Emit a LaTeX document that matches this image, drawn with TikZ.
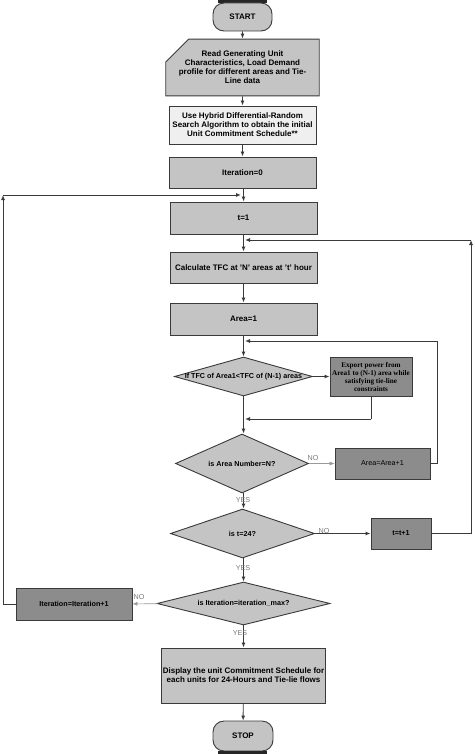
\documentclass[tikz,border=0pt]{standalone}
\usepackage{fontspec}
\setmainfont{Liberation Sans}
\newfontfamily\timesfont{Liberation Serif}
\usepackage{tikz}
\usetikzlibrary{shapes.geometric,shapes.misc,arrows.meta}
\definecolor{boxgray}{HTML}{C4C4C4}
\definecolor{darkbox}{HTML}{8C8C8C}
\definecolor{lightbox}{HTML}{EFEFEF}
\definecolor{linegray}{HTML}{3A3A3A}
\definecolor{labelgray}{HTML}{7A7A7A}

\begin{document}
\begin{tikzpicture}[x=1pt,y=-1pt,
    line width=0.9pt,
    proc/.style={rectangle,draw=linegray,fill=boxgray,inner sep=1pt,align=center,
        font=\bfseries\fontsize{8}{9}\selectfont},
    darkproc/.style={proc,fill=darkbox,font=\bfseries\fontsize{7.2}{8.5}\selectfont},
    term/.style={proc,rounded corners=11pt},
    dec/.style={diamond,draw=linegray,fill=boxgray,inner sep=0pt},
    dtext/.style={font=\bfseries\fontsize{7.2}{8.5}\selectfont},
    yn/.style={font=\fontsize{7.2}{8}\selectfont,text=labelgray,inner sep=0pt},
    flow/.style={draw=linegray,-{Latex[length=5pt,width=4pt]}},
    noflow/.style={flow,draw=gray!80,line width=0.6pt}]
    \useasboundingbox (0,0) rectangle (474,754);

    % main column
    \fill[black!85] (218,0) rectangle (267,3);
    \node[term,minimum width=59pt,minimum height=28pt] (start) at (242.5,17) {START};
    \node[proc,chamfered rectangle,chamfered rectangle corners=north west,
        chamfered rectangle xsep=12pt,chamfered rectangle ysep=11pt,
        minimum width=147pt,minimum height=49pt] (read) at (242.5,67.5)
        {Read Generating Unit\\Characteristics, Load Demand\\profile for different areas and Tie-\\Line data};
    \node[proc,fill=lightbox,minimum width=147pt,minimum height=38pt] (hybrid) at (242.5,125)
        {Use Hybrid Differential-Random\\Search Algorithm to obtain the initial\\Unit Commitment Schedule**};
    \node[proc,minimum width=147pt,minimum height=31pt] (iter0) at (242.5,172.5) {Iteration=0};
    \node[proc,minimum width=147pt,minimum height=32pt] (t1) at (243.5,218) {t=1};
    \node[proc,minimum width=147pt,minimum height=31pt] (calc) at (243.5,267.5) {Calculate TFC at 'N' areas at 't' hour};
    \node[proc,minimum width=147pt,minimum height=32pt] (area1) at (243.5,319) {Area=1};
    \node[dec,minimum width=138pt,minimum height=39pt,
        label={[dtext]center:If TFC of Area1<TFC of (N-1) areas}] (d1) at (243.5,376.5) {};
    \node[darkproc,font=\timesfont\bfseries\fontsize{7.2}{8}\selectfont,
        minimum width=82pt,minimum height=39pt] (export) at (371,376.5)
        {Export power from\\Area1 to (N-1) area while\\satisfying tie-line\\constraints};
    \node[dec,minimum width=133pt,minimum height=59pt,
        label={[dtext]center:is Area Number=N?}] (d2) at (242,463.5) {};
    \node[darkproc,font=\fontsize{7.2}{8.5}\selectfont,minimum width=95pt,minimum height=31pt] (areainc) at (382.5,463.5) {Area=Area+1};
    \node[dec,minimum width=144pt,minimum height=49pt,
        label={[dtext]center:is t=24?}] (d3) at (242.5,533.5) {};
    \node[darkproc,minimum width=60pt,minimum height=31pt] (tinc) at (401,533.5) {t=t+1};
    \node[dec,minimum width=173pt,minimum height=43pt,
        label={[dtext]center:is Iteration=iteration\_max?}] (d4) at (243.5,603.5) {};
    \node[darkproc,minimum width=116pt,minimum height=32pt] (iterinc) at (74,604) {Iteration=Iteration+1};
    \node[proc,minimum width=159pt,minimum height=55pt] (display) at (243.5,675.5)
        {Display the unit Commitment Schedule for\\each units for 24-Hours and Tie-lie flows};
    \node[term,minimum width=60pt,minimum height=30pt] (stop) at (243,736) {STOP};
    \fill[black!85] (218,751) rectangle (267,754);

    % loop corners
    \coordinate (oa) at (3,604);
    \coordinate (ob) at (3,195);
    \coordinate (oc) at (241,195);
    \coordinate (ta) at (471,533.5);
    \coordinate (tb) at (471,240);
    \coordinate (tc) at (245,240);
    \coordinate (aa) at (437,463.5);
    \coordinate (ab) at (437,341);
    \coordinate (ac) at (245,341);
    \coordinate (ea) at (371,419);
    \coordinate (eb) at (245,419);

    % straight flow
    \draw[flow] (start) -- (read);
    \draw[flow] (read) -- (hybrid);
    \draw[flow] (hybrid) -- (iter0);
    \draw[flow] (iter0.south -| t1) -- (t1);
    \draw[flow] (t1) -- (calc);
    \draw[flow] (calc) -- (area1);
    \draw[flow] (area1) -- (d1);
    \draw[flow] (d1) -- (export);
    \draw[flow] (d1.south) -- (d2.north -| d1.south);
    \draw[noflow] (d2) -- (areainc);
    \draw[flow] (d2.south -| d1.south) -- (d3.north -| d1.south);
    \draw[flow] (d3) -- (tinc);
    \draw[flow] (d3.south -| d1.south) -- (d4.north -| d1.south);
    \draw[noflow] (d4) -- (iterinc);
    \draw[flow] (d4.south) -- (display);
    \draw[flow] (display) -- (stop);

    % return paths
    \draw[draw=linegray] (export.south) -- (ea);
    \draw[flow] (ea) -- (eb);
    \draw[draw=linegray] (areainc.east) -- (aa) -- (ab);
    \draw[flow] (ab) -- (ac);
    \draw[flow] (tinc.east) -- (ta) -- (tb);
    \draw[flow] (tb) -- (tc);
    \draw[flow] (iterinc.west) -- (oa) -- (ob);
    \draw[flow] (ob) -- (oc);

    % branch labels
    \node[yn] (no2) at (313,458) {NO};
    \node[yn] (yes2) at (243,500) {YES};
    \node[yn] (no3) at (324,531) {NO};
    \node[yn] (yes3) at (243,568) {YES};
    \node[yn] (no4) at (139,597) {NO};
    \node[yn] (yes4) at (240,633) {YES};
\end{tikzpicture}
\end{document}
